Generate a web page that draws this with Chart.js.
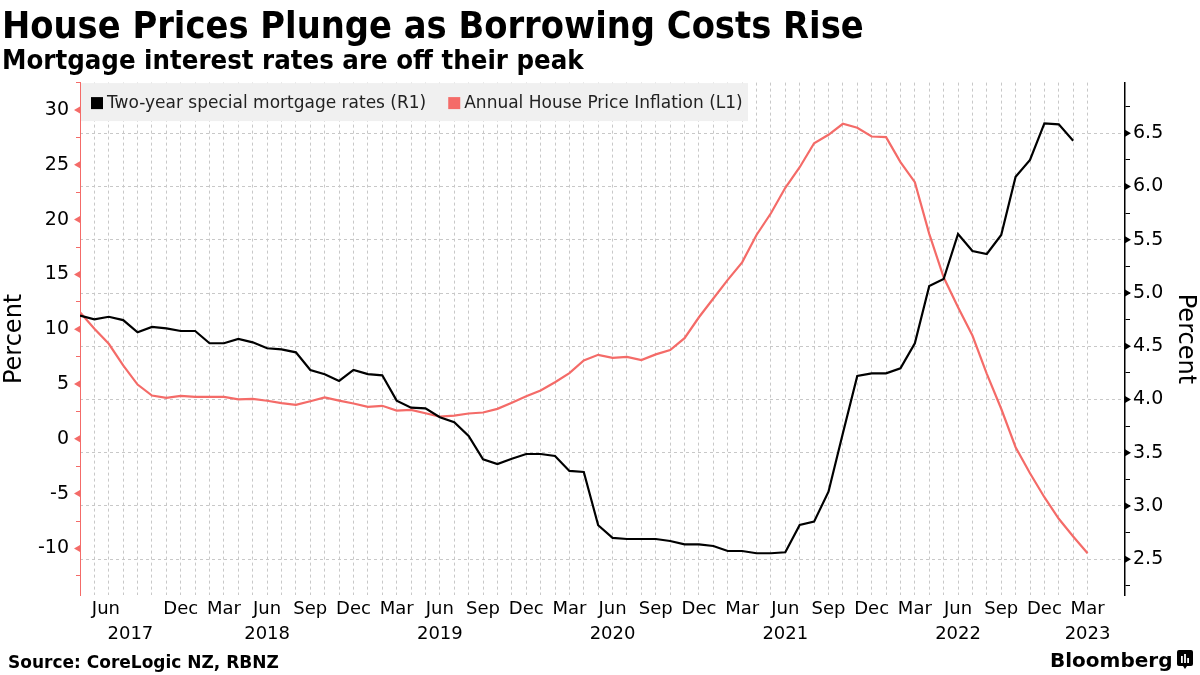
<!DOCTYPE html>
<html><head><meta charset="utf-8">
<script src="https://cdn.jsdelivr.net/npm/chart.js@4.4.0/dist/chart.umd.min.js"></script>
<style>
html,body{margin:0;padding:0;background:#fff;}
#wrap{position:relative;width:1200px;height:675px;overflow:hidden;background:#fff;}
#c{position:absolute;left:0;top:0;}
.t{position:absolute;white-space:nowrap;color:#000;}
#title{left:2px;top:6px;font-family:'DejaVu Sans Condensed','DejaVu Sans';font-stretch:condensed;font-weight:bold;font-size:37.6px;line-height:38px;}
#sub{left:2px;top:46px;font-family:'DejaVu Sans Condensed','DejaVu Sans';font-stretch:condensed;font-weight:bold;font-size:27.3px;line-height:27px;}
#src{left:8px;top:654px;font-family:'DejaVu Sans';font-weight:bold;font-size:17px;line-height:17px;}
#bb{left:1050px;top:650px;font-family:'DejaVu Sans';font-weight:bold;font-size:20px;line-height:20px;}
</style></head>
<body>
<div id="wrap">
<canvas id="c" width="1200" height="675"></canvas>
<div class="t" id="title">House Prices Plunge as Borrowing Costs Rise</div>
<div class="t" id="sub">Mortgage interest rates are off their peak</div>
<div class="t" id="src">Source: CoreLogic NZ, RBNZ</div>
<div class="t" id="bb">Bloomberg</div>
<svg style="position:absolute;left:1177px;top:650px" width="16" height="20" viewBox="0 0 16 20">
<path d="M2 0h12a2 2 0 0 1 2 2v12a2 2 0 0 1-2 2h-4l-2 3-2-3h-4a2 2 0 0 1-2-2v-12a2 2 0 0 1 2-2z" fill="#000"/>
<rect x="4" y="6" width="1.8" height="7" fill="#fff"/><rect x="7.1" y="4" width="1.8" height="9" fill="#fff"/><rect x="10.2" y="8" width="1.8" height="5" fill="#fff"/>
</svg>
</div>
<script>
// Months (index 0 = May 2017 ... index 70 = Mar 2023)
const months = [
 '2017-05','2017-06','2017-07','2017-08','2017-09','2017-10','2017-11','2017-12',
 '2018-01','2018-02','2018-03','2018-04','2018-05','2018-06','2018-07','2018-08','2018-09','2018-10','2018-11','2018-12',
 '2019-01','2019-02','2019-03','2019-04','2019-05','2019-06','2019-07','2019-08','2019-09','2019-10','2019-11','2019-12',
 '2020-01','2020-02','2020-03','2020-04','2020-05','2020-06','2020-07','2020-08','2020-09','2020-10','2020-11','2020-12',
 '2021-01','2021-02','2021-03','2021-04','2021-05','2021-06','2021-07','2021-08','2021-09','2021-10','2021-11','2021-12',
 '2022-01','2022-02','2022-03','2022-04','2022-05','2022-06','2022-07','2022-08','2022-09','2022-10','2022-11','2022-12',
 '2023-01','2023-02','2023-03'];

// Annual House Price Inflation (L1), percent
const priceInflation = [
 11.55,10.04,8.67,6.69,4.95,3.95,3.74,3.92,
 3.83,3.83,3.83,3.59,3.65,3.47,3.25,3.10,3.43,3.77,3.49,3.22,
 2.92,3.01,2.58,2.64,2.33,2.03,2.12,2.31,2.40,2.73,3.28,3.89,
 4.41,5.16,5.99,7.15,7.66,7.39,7.48,7.18,7.70,8.10,9.18,11.09,
 12.8,14.5,16.1,18.6,20.58,22.9,24.78,26.97,27.74,28.74,28.38,27.58,
 27.52,25.24,23.41,18.70,14.74,12.01,9.42,5.93,2.74,-0.77,-3.14,-5.33,
 -7.30,-8.91,-10.44];

// Two-year special mortgage rates (R1), percent
const mortgageRates = [
 4.787,4.753,4.777,4.746,4.631,4.681,4.668,4.643,
 4.643,4.528,4.528,4.568,4.537,4.481,4.471,4.443,4.277,4.237,4.174,4.277,
 4.239,4.227,3.989,3.923,3.917,3.833,3.786,3.657,3.438,3.394,3.444,3.488,
 3.488,3.469,3.329,3.319,2.819,2.70,2.69,2.69,2.69,2.671,2.640,2.640,
 2.624,2.577,2.577,2.556,2.556,2.565,2.822,2.853,3.134,3.683,4.221,4.246,
 4.246,4.293,4.528,5.066,5.131,5.554,5.394,5.366,5.545,6.092,6.249,6.593,
 6.584,6.430];

// X tick labels
const monthTickLabels = ['Jun','Dec','Mar','Jun','Sep','Dec','Mar','Jun','Sep','Dec','Mar','Jun','Sep','Dec','Mar','Jun','Sep','Dec','Mar','Jun','Sep','Dec','Mar'];
const monthTickAt = [1.8,7,10,13,16,19,22,25,28,31,34,37,40,43,46,49,52,55,58,61,64,67,70];
const yearTickLabels = ['2017','2018','2019','2020','2021','2022','2023'];
const yearTickAt = [3.5,13,25,37,49,61,70];

const RED = '#f46b68';
const BLACK = '#000000';
const FONT = "'DejaVu Sans'";
Chart.defaults.font.family = FONT;

const isHalf = v => Math.abs(v*2 - Math.round(v*2)) < 1e-6;
const isFive = v => Math.abs(v/5 - Math.round(v/5)) < 1e-6;

const legendPlugin = {
  id: 'bbLegend',
  beforeDatasetsDraw(chart) {
    const ctx = chart.ctx, a = chart.chartArea;
    ctx.save();
    ctx.fillStyle = '#f0f0f0';
    ctx.fillRect(a.left + 1, a.top + 0.5, 667, 38);
    ctx.font = "17px " + FONT;
    ctx.textBaseline = 'middle';
    let x = a.left + 11;
    const cy = a.top + 20.5;
    chart.data.datasets.forEach(ds => {
      ctx.fillStyle = ds.borderColor;
      ctx.fillRect(x, cy - 6, 12, 12);
      ctx.fillStyle = '#222';
      ctx.fillText(ds.label, x + 16, cy);
      x += 16 + ctx.measureText(ds.label).width + 22;
    });
    ctx.restore();
  }
};

const markerPlugin = {
  id: 'axisMarkers',
  afterDraw(chart) {
    const ctx = chart.ctx;
    const yL = chart.scales.yL, yR = chart.scales.yR;
    ctx.save();
    ctx.fillStyle = RED;
    yL.ticks.forEach(t => {
      if (!isFive(t.value)) return;
      const py = yL.getPixelForValue(t.value), x0 = yL.right;
      ctx.beginPath(); ctx.moveTo(x0, py - 3.5); ctx.lineTo(x0, py + 3.5); ctx.lineTo(x0 - 6, py); ctx.closePath(); ctx.fill();
    });
    ctx.fillStyle = BLACK;
    yR.ticks.forEach(t => {
      if (!isHalf(t.value)) return;
      const py = yR.getPixelForValue(t.value), x0 = yR.left;
      ctx.beginPath(); ctx.moveTo(x0, py - 3.5); ctx.lineTo(x0, py + 3.5); ctx.lineTo(x0 + 6, py); ctx.closePath(); ctx.fill();
    });
    ctx.restore();
  }
};

new Chart(document.getElementById('c'), {
  type: 'line',
  data: {
    datasets: [
      { label: 'Two-year special mortgage rates (R1)', yAxisID: 'yR', xAxisID: 'x',
        data: mortgageRates.map((v, i) => ({ x: i, y: v })),
        borderColor: BLACK, backgroundColor: BLACK, borderWidth: 2.2, pointRadius: 0, tension: 0 },
      { label: 'Annual House Price Inflation (L1)', yAxisID: 'yL', xAxisID: 'x',
        data: priceInflation.map((v, i) => ({ x: i, y: v })),
        borderColor: RED, backgroundColor: RED, borderWidth: 2.2, pointRadius: 0, tension: 0 }
    ]
  },
  options: {
    responsive: false, animation: false, devicePixelRatio: 1,
    layout: { padding: { top: 82.6, left: 0, right: 0, bottom: 0 } },
    plugins: { legend: { display: false }, tooltip: { enabled: false }, title: { display: false } },
    scales: {
      x: {
        type: 'linear', position: 'bottom', min: 0, max: 72.6, weight: 0,
        afterBuildTicks(s) { s.ticks = months.map((m, i) => ({ value: i })); },
        afterFit(s) { s.height = 0; },
        ticks: { display: false },
        grid: { display: true, color: '#c8c8c8', lineWidth: 1, drawTicks: false },
        border: { display: false, dash: [3, 3] }
      },
      xm: {
        type: 'linear', position: 'bottom', min: 0, max: 72.6, weight: 1,
        afterBuildTicks(s) { s.ticks = monthTickAt.map(v => ({ value: v })); },
        afterFit(s) { s.height = 25; },
        grid: { display: false, drawTicks: false }, border: { display: false },
        ticks: { autoSkip: false, maxRotation: 0, minRotation: 0, padding: 3, color: '#000',
          font: { size: 18 },
          callback: v => { const k = monthTickAt.indexOf(v); return k >= 0 ? monthTickLabels[k] : ''; } }
      },
      xy: {
        type: 'linear', position: 'bottom', min: 0, max: 72.6, weight: 2,
        afterBuildTicks(s) { s.ticks = yearTickAt.map(v => ({ value: v })); },
        afterFit(s) { s.height = 54.8; },
        grid: { display: false, drawTicks: false }, border: { display: false },
        ticks: { autoSkip: false, maxRotation: 0, minRotation: 0, padding: 3, color: '#000',
          font: { size: 18 },
          callback: v => { const k = yearTickAt.indexOf(v); return k >= 0 ? yearTickLabels[k] : ''; } }
      },
      yL: {
        type: 'linear', position: 'left', min: -14.27, max: 32.5,
        afterBuildTicks(s) { const t = []; for (let k = -5; k <= 13; k++) t.push({ value: k * 2.5 }); s.ticks = t; },
        afterFit(s) { s.width = 80; },
        grid: { drawOnChartArea: false, drawTicks: true, tickLength: 4, tickColor: RED, tickWidth: 1 },
        border: { display: true, color: RED, width: 1 },
        ticks: { autoSkip: false, padding: 7, color: '#000', font: { size: 19 },
          callback: v => isFive(v) ? String(Math.round(v)) : '' },
        title: { display: true, text: 'Percent', color: '#000', font: { size: 24 }, padding: 0 }
      },
      yR: {
        type: 'linear', position: 'right', min: 2.162, max: 6.976,
        afterBuildTicks(s) { const t = []; for (let k = 9; k <= 27; k++) t.push({ value: k * 0.25 }); s.ticks = t; },
        afterFit(s) { s.width = 75; },
        grid: { drawOnChartArea: true, drawTicks: true, tickLength: 5, tickColor: '#000', tickWidth: 1,
          lineWidth: 1, color: c => (c.tick && isHalf(c.tick.value)) ? '#c8c8c8' : 'rgba(0,0,0,0)' },
        border: { display: true, color: '#000', width: 1.5, dash: [3, 3] },
        ticks: { autoSkip: false, padding: 3, color: '#000', font: { size: 19 },
          callback: v => isHalf(v) ? v.toFixed(1) : '' },
        title: { display: true, text: 'Percent', color: '#000', font: { size: 24 }, padding: 0 }
      }
    }
  },
  plugins: [legendPlugin, markerPlugin]
});
</script>
</body></html>
